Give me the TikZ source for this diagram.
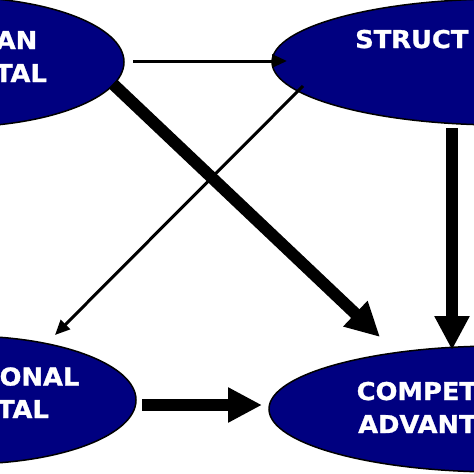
\documentclass[tikz,border=0pt]{standalone}
\usepackage{fontspec}
\usetikzlibrary{arrows.meta,shapes.geometric,calc}
\newfontfamily\lab[FakeStretch=1.05,FakeBold=1.2]{DejaVu Sans Bold}
\definecolor{ellfill}{RGB}{0,0,128}
\tikzset{
  oval/.style={ellipse, draw=black, line width=1.5pt, fill=ellfill, inner sep=0pt, outer sep=0pt},
  lbl/.style={text=white, inner sep=0pt, font=\lab\fontsize{24.5}{33}\selectfont},
  thin link/.style={line width=3pt, -{Triangle[length=15pt,width=13pt]}},
  thick link/.style={line width=12pt, -{Triangle[length=34pt,width=33pt]}}
}
\begin{document}
\begin{tikzpicture}[x=1pt,y=-1pt]
\useasboundingbox (0,0) rectangle (474,474);
\clip (0,0) rectangle (474,474);
\fill[white] (0,0) rectangle (474,474);
% ellipses
\node[oval, minimum width=340pt, minimum height=130pt] (hc) at (-46,62) {};
\node[oval, minimum width=460pt, minimum height=126pt] (sc) at (502,62) {};
\node[oval, minimum width=340pt, minimum height=128pt] (rc) at (-34,400) {};
\node[oval, minimum width=460pt, minimum height=126pt] (ca) at (499,409) {};
% labels
\node[lbl, anchor=base east] (hc1) at (37.5,49) {AN};
\node[lbl, anchor=base east] (hc2) at (47,82) {TAL};
\node[lbl, anchor=base west] (sc1) at (355,48) {STRUCT};
\node[lbl, anchor=base east] (rc1) at (79.5,385.5) {ONAL};
\node[lbl, anchor=base east] (rc2) at (49,418) {TAL};
\node[lbl, anchor=base west] (ca1) at (356.5,400) {COMPET};
\node[lbl, anchor=base west] (ca2) at (358,433) {ADVANT};
% connectors
\draw[thin link] ($(hc.east)+(9,-1)$) -- ($(sc.west)+(15,-1)$);
\draw[thin link] ($(sc.west)+(31,24)$) -- ($(rc.east)+(-81,-65)$);
\draw[thick link] ($(hc.east)+(-11,22)$) -- ($(ca.west)+(111,-72)$);
\draw[thick link] ($(sc.south)+(-50,3)$) -- ($(ca.west)+(183,-59)$);
\draw[thick link] ($(rc.east)+(6,5)$) -- ($(ca.west)+(-7,-4)$);
\end{tikzpicture}
\end{document}
